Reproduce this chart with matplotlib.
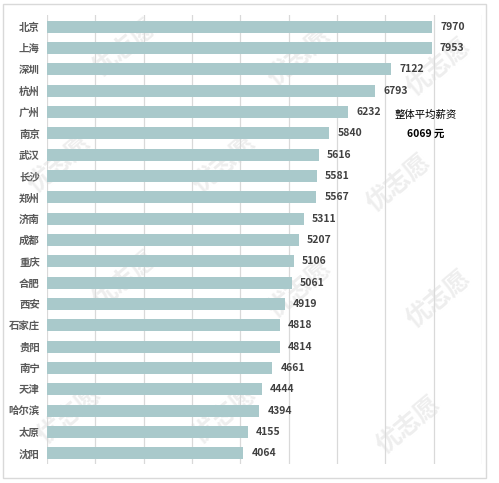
import matplotlib
matplotlib.use("Agg")
import matplotlib.pyplot as plt
from matplotlib.patches import Rectangle

plt.rcParams['font.family'] = ['Noto Sans CJK SC', 'DejaVu Sans']

cities = ["北京", "上海", "深圳", "杭州", "广州", "南京", "武汉", "长沙", "郑州", "济南", "成都",
          "重庆", "合肥", "西安", "石家庄", "贵阳", "南宁", "天津", "哈尔滨", "太原", "沈阳"]
salaries = [7970, 7953, 7122, 6793, 6232, 5840, 5616, 5581, 5567, 5311, 5207,
            5106, 5061, 4919, 4818, 4814, 4661, 4444, 4394, 4155, 4064]
avg_title = "整体平均薪资"
avg_value = "6069 元"
watermark = "优志愿"

fig = plt.figure(figsize=(4.99, 4.83), dpi=100)
ax = fig.add_axes([0.0936, 0.0393, 0.8729, 0.9297])
ax.set_zorder(2)

# watermarks (behind the chart)
wm_pos = [(0.25, 0.90), (0.60, 0.88), (0.88, 0.86), (0.12, 0.66), (0.45, 0.66), (0.80, 0.62),
          (0.25, 0.42), (0.60, 0.40), (0.88, 0.38), (0.14, 0.14), (0.45, 0.14), (0.82, 0.12)]
for (wx, wy) in wm_pos:
    fig.text(wx, wy, watermark, fontsize=18, color="#eeeeee", rotation=40,
             ha="center", va="center", fontweight="bold", zorder=0)

ypos = list(range(len(cities)))
ax.barh(ypos, salaries, height=0.56, color="#A9C9CB", zorder=3)
ax.set_xlim(0, 9000)
ax.set_ylim(20.5, -0.55)
ax.set_xticks(range(0, 9001, 1000))
ax.set_xticklabels([])
ax.tick_params(axis='x', length=0)
ax.set_yticks(ypos)
ax.set_yticklabels(cities, fontsize=7.5, color="#595959", fontweight="bold")
ax.tick_params(axis='y', length=0, pad=5)
ax.grid(axis='x', color="#d9d9d9", linewidth=0.9, zorder=0)
for s in ax.spines.values():
    s.set_visible(False)
ax.patch.set_alpha(0)

for y, v in zip(ypos, salaries):
    ax.annotate(str(v), (v, y), xytext=(6, 0), textcoords="offset points",
                ha="left", va="center", fontsize=7.5, fontweight="bold", color="#404040", zorder=4)

ax.text(426 / 499, 1 - 115 / 483, avg_title, transform=fig.transFigure, ha="center", va="center",
        fontsize=7.5, color="#000000", zorder=5)
ax.text(426 / 499, 1 - 134 / 483, avg_value, transform=fig.transFigure, ha="center", va="center",
        fontsize=7.5, fontweight="bold", color="#000000", zorder=5)

fig.patches.append(Rectangle((3 / 499, 1 - 478 / 483), (486 - 3) / 499, (478 - 4) / 483,
                             transform=fig.transFigure, fill=False, edgecolor="#d9d9d9", linewidth=1))

fig.savefig("out.png", dpi=100)
